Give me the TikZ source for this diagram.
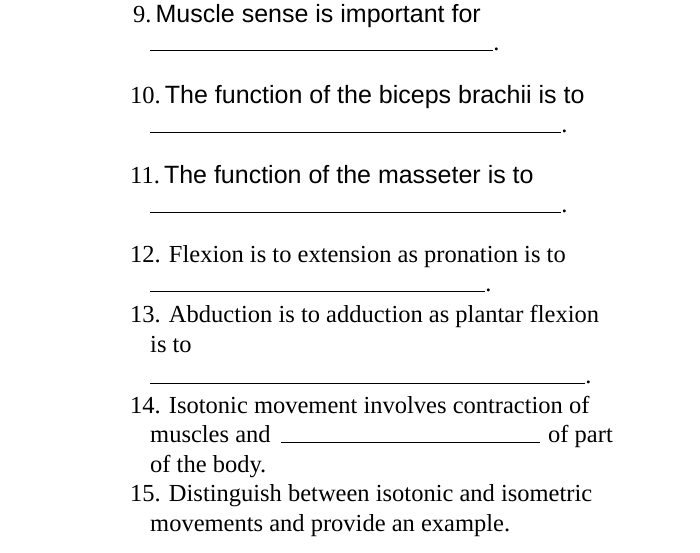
\documentclass[tikz,border=0pt]{standalone}
\usepackage{fontspec}
\setmainfont{Liberation Serif}
\newfontfamily\arial{Liberation Sans}
\newcommand{\sansbig}{\arial\fontsize{25}{28}\selectfont}
\begin{document}
\begin{tikzpicture}[x=1pt,y=-1pt,
  t/.style={anchor=base west,inner sep=0pt,font=\fontsize{24.5}{28}\selectfont},
  ul/.style={line width=0.8pt}]
\useasboundingbox[fill=white] (0,0) rectangle (700,552);
\node[t] (l9) at (133,22) {9.\,{\sansbig Muscle sense is important for}};
\coordinate (a1) at (150,50); \coordinate (b1) at (493,50);
\draw[ul] (a1) -- (b1) node[t,anchor=base west] {.};
\node[t] (l10) at (130,103) {10.\,{\sansbig The function of the biceps brachii is to}};
\coordinate (a2) at (150,132); \coordinate (b2) at (561,132);
\draw[ul] (a2) -- (b2) node[t,anchor=base west] {.};
\node[t] (l11) at (130,183) {11.\,{\sansbig The function of the masseter is to}};
\coordinate (a3) at (150,212); \coordinate (b3) at (561,212);
\draw[ul] (a3) -- (b3) node[t,anchor=base west] {.};
\node[t] (l12) at (130,262) {12. Flexion is to extension as pronation is to};
\coordinate (a4) at (150,291); \coordinate (b4) at (485,291);
\draw[ul] (a4) -- (b4) node[t,anchor=base west] {.};
\node[t] (l13) at (130,322) {13. Abduction is to adduction as plantar flexion};
\node[t] (l13b) at (150,352) {is to};
\coordinate (a5) at (150,383); \coordinate (b5) at (585,383);
\draw[ul] (a5) -- (b5) node[t,anchor=base west] {.};
\node[t] (l14) at (130,413) {14. Isotonic movement involves contraction of};
\node[t] (l14b) at (150,442) {muscles and};
\coordinate (a6) at (281,442); \coordinate (b6) at (540,442);
\draw[ul] (a6) -- (b6);
\node[t] (l14c) at (548,442) {of part};
\node[t] (l14d) at (150,472) {of the body.};
\node[t] (l15) at (130,501) {15. Distinguish between isotonic and isometric};
\node[t] (l15b) at (150,531) {movements and provide an example.};
\end{tikzpicture}
\end{document}
